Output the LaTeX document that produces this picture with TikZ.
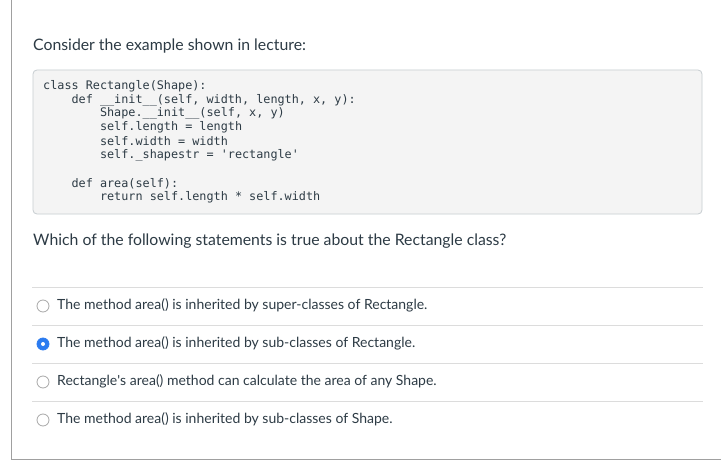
\documentclass[tikz,border=0pt]{standalone}
\usepackage{fontspec}
\setmainfont{Lato}
\newfontfamily\codefont{DejaVu Sans Mono}
\definecolor{txt}{HTML}{2D3B45}
\definecolor{codebg}{HTML}{F4F4F4}
\definecolor{codebd}{HTML}{C7CDD1}
\definecolor{sep}{HTML}{DCDCDC}
\definecolor{frame}{HTML}{A0A0A0}
\definecolor{radio}{HTML}{A8A8A8}
\definecolor{sel}{HTML}{2B7BF0}
\newcommand{\us}{\string_}
\tikzset{
  code/.style={anchor=west,inner sep=0pt,font=\codefont\fontsize{11.8}{13}\selectfont,text=txt},
  head/.style={anchor=west,inner sep=0pt,font=\fontsize{15.8}{18}\selectfont,text=txt},
  opt/.style={anchor=west,inner sep=0pt,font=\fontsize{14}{16}\selectfont,text=txt},
  radiobtn/.style={circle,draw=radio,line width=0.8pt,minimum size=12pt,inner sep=0pt},
  sepline/.style={draw=sep,line width=0.8pt}
}
\begin{document}
\begin{tikzpicture}[x=1pt,y=-1pt]
\useasboundingbox (0,0) rectangle (721,460);
\fill[white] (0,0) rectangle (721,460);
\draw[frame,line width=1pt] (11.5,0) -- (11.5,459.5) -- (721,459.5);
\node[head] (t1) at (33,46) {Consider the example shown in lecture:};
\draw[codebg,fill=codebg,draw=codebd,line width=0.8pt,rounded corners=4pt] (33,70) rectangle (702,214);
\node[code] (c1) at (43,86) {class Rectangle(Shape):};
\node[code] (c2) at (43,100) {\ \ \ \ def \us\us init\us\us(self, width, length, x, y):};
\node[code] (c3) at (43,113) {\ \ \ \ \ \ \ \ Shape.\us\us init\us\us(self, x, y)};
\node[code] (c4) at (43,127) {\ \ \ \ \ \ \ \ self.length = length};
\node[code] (c5) at (43,141) {\ \ \ \ \ \ \ \ self.width = width};
\node[code] (c6) at (43,155) {\ \ \ \ \ \ \ \ self.\us shapestr = \textquotesingle rectangle\textquotesingle};
\node[code] (c7) at (43,184) {\ \ \ \ def area(self):};
\node[code] (c8) at (43,197) {\ \ \ \ \ \ \ \ return self.length * self.width};
\node[head] (q) at (33,241) {Which of the following statements is true about the Rectangle class?};
\foreach \yy in {287,325,363,401} \draw[sepline] (32,\yy) -- (703,\yy);
\node[radiobtn] (r1) at (43,306) {};
\node[radiobtn,fill=sel,draw=sel] (r2) at (43,344) {};
\fill[white] (r2.center) circle (2pt);
\node[radiobtn] (r3) at (43,382) {};
\node[radiobtn] (r4) at (43,420) {};
\node[opt] (o1) at (57,305) {The method area() is inherited by super-classes of Rectangle.};
\node[opt] (o2) at (57,343) {The method area() is inherited by sub-classes of Rectangle.};
\node[opt] (o3) at (57,381) {Rectangle\textquotesingle s area() method can calculate the area of any Shape.};
\node[opt] (o4) at (57,419) {The method area() is inherited by sub-classes of Shape.};
\end{tikzpicture}
\end{document}
